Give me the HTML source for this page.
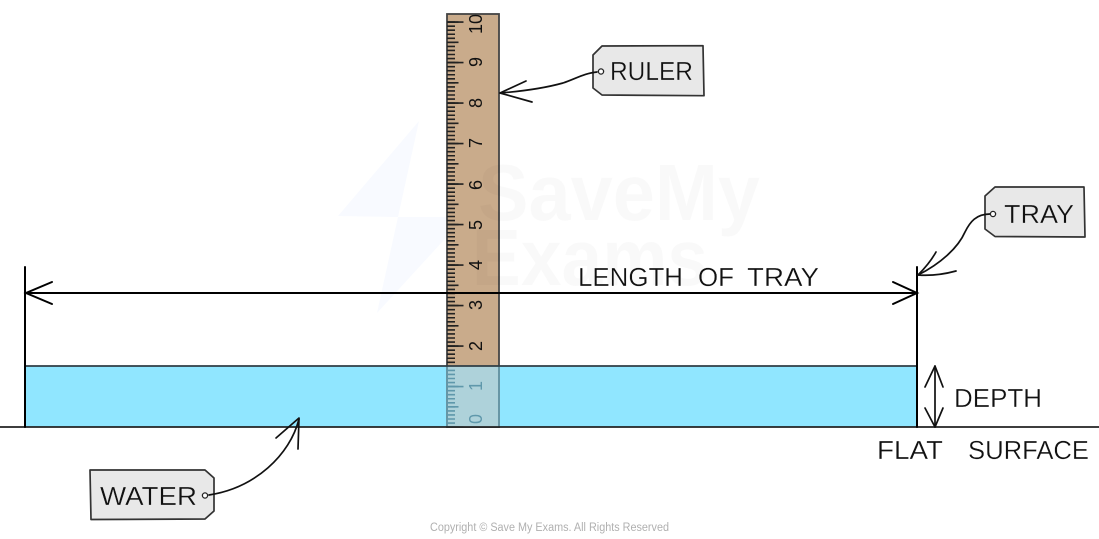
<!DOCTYPE html>
<html lang="en">
<head>
<meta charset="utf-8">
<title>Measuring water depth in a tray</title>
<style>
html,body{margin:0;padding:0;background:#fff}
svg{display:block}
text{font-family:"Liberation Sans",sans-serif}
.l{font-size:26px;fill:#111;stroke:#fff;stroke-width:.3}
.g{stroke:#e8e8e8}
.d{font-size:18px;fill:#111;text-anchor:middle}
.e{font-size:18px;fill:#5f98ab;text-anchor:middle}
.a{fill:none;stroke:#111;stroke-width:1.7;stroke-linecap:round;stroke-linejoin:round}
.m{fill:none;stroke:#000;stroke-width:2;stroke-linecap:round}
.t{fill:#e8e8e8;stroke:#333;stroke-width:1.7;stroke-linejoin:round}
.h{fill:#fff;stroke:#222;stroke-width:1.3}
</style>
</head>
<body>
<svg width="1099" height="539" viewBox="0 0 1099 539" xmlns="http://www.w3.org/2000/svg">
<rect width="1099" height="539" fill="#fff"/>

<!-- watermark bolt -->
<polygon points="419,121 338,216 398,217 377,313 465,217 398,217" fill="#f8faff"/>

<!-- ruler -->
<rect x="447" y="14" width="52" height="413" fill="#c9ab8b" stroke="#444" stroke-width="1.8"/>
<line x1="451" y1="21.3" x2="451" y2="427" stroke="#222" stroke-width="8" stroke-dasharray="1.6 2.45"/>
<line x1="453" y1="21.3" x2="453" y2="427" stroke="#222" stroke-width="11" stroke-dasharray="1.6 18.65"/>
<line x1="455.5" y1="21.3" x2="455.5" y2="427" stroke="#222" stroke-width="16" stroke-dasharray="1.6 38.9"/>
<text class="d" transform="translate(482,24) rotate(-90)">10</text>
<text class="d" transform="translate(482,62) rotate(-90)">9</text>
<text class="d" transform="translate(482,103) rotate(-90)">8</text>
<text class="d" transform="translate(482,143) rotate(-90)">7</text>
<text class="d" transform="translate(482,185) rotate(-90)">6</text>
<text class="d" transform="translate(482,225) rotate(-90)">5</text>
<text class="d" transform="translate(482,265) rotate(-90)">4</text>
<text class="d" transform="translate(482,305) rotate(-90)">3</text>
<text class="d" transform="translate(482,346) rotate(-90)">2</text>

<!-- watermark text -->
<g fill="#000" fill-opacity="0.025" font-weight="700" font-size="80">
<text x="478" y="220" textLength="282" lengthAdjust="spacingAndGlyphs">SaveMy</text>
<text x="472" y="285" textLength="236" lengthAdjust="spacingAndGlyphs">Exams</text>
</g>

<!-- water -->
<rect x="25" y="366" width="422" height="61" fill="#90e6ff"/>
<rect x="499" y="366" width="418" height="61" fill="#90e6ff"/>
<rect x="446" y="366" width="54" height="61" fill="#aed2da"/>
<line x1="447" y1="366" x2="447" y2="427" stroke="#5f8f9f" stroke-width="1.8"/>
<line x1="499" y1="366" x2="499" y2="427" stroke="#5f8f9f" stroke-width="1.8"/>
<line x1="451" y1="369.6" x2="451" y2="427" stroke="#5f98ab" stroke-width="8" stroke-dasharray="1.6 2.45"/>
<line x1="453" y1="385.8" x2="453" y2="427" stroke="#5f98ab" stroke-width="11" stroke-dasharray="1.6 18.65"/>
<line x1="455.5" y1="385.8" x2="455.5" y2="427" stroke="#5f98ab" stroke-width="16" stroke-dasharray="1.6 38.9"/>
<text class="e" transform="translate(482,386) rotate(-90)">1</text>
<text class="e" transform="translate(482,419) rotate(-90)">0</text>
<line x1="25" y1="366" x2="917" y2="366" stroke="#2f3d44" stroke-width="1.7"/>

<!-- ground and tray -->
<line x1="0" y1="427" x2="1099" y2="427" stroke="#222" stroke-width="1.7"/>
<line class="m" x1="25" y1="267" x2="25" y2="427"/>
<line class="m" x1="917" y1="267" x2="917" y2="427"/>

<!-- length arrow -->
<line class="m" x1="26" y1="293" x2="917" y2="293"/>
<path class="m" d="M52,282 L26,293 L52,304"/>
<path class="m" d="M893,282 L917,293 L893,304"/>

<!-- depth arrow -->
<line class="a" x1="935" y1="366" x2="935" y2="427"/>
<path class="a" d="M925,387 L935,366 L943,387"/>
<path class="a" d="M925,408 L935,427 L943,408"/>

<!-- ruler tag -->
<path class="t" d="M602,46 L703,45.7 L704,95.7 L602,95 L593,88 L593,55 Z"/>
<path class="a" d="M597,72 C585,73 575,79 563,83 C545,88 525,91 500,93"/>
<path class="a" d="M526,81 L500,93 L532,102"/>
<circle class="h" cx="601" cy="71.5" r="2.6"/>
<text class="l g" x="610" y="80" textLength="83" lengthAdjust="spacingAndGlyphs">RULER</text>

<!-- tray tag -->
<path class="t" d="M995,187 L1084,187 L1085,237 L995,236.5 L985,229 L985,196 Z"/>
<path class="a" d="M990,214 C976,214 970,222 965,232 C958,248 940,264 918,275"/>
<path class="a" d="M936,252 C931,261 925,268 918,275 C932,276 945,274 956,271"/>
<circle class="h" cx="993" cy="214" r="2.6"/>
<text class="l g" x="1004" y="223" textLength="70" lengthAdjust="spacingAndGlyphs">TRAY</text>

<!-- water tag -->
<path class="t" d="M90,470 L205,470 L214,478 L214,511 L205,519 L91,519.5 Z"/>
<path class="a" d="M209,495 C255,488 290,455 299,419"/>
<path class="a" d="M276,438 L299,418 L298,449"/>
<circle class="h" cx="205" cy="495.5" r="2.6"/>
<text class="l g" x="100" y="505" textLength="97" lengthAdjust="spacingAndGlyphs">WATER</text>

<!-- labels -->
<text class="l" x="578" y="286" textLength="105" lengthAdjust="spacingAndGlyphs">LENGTH</text>
<text class="l" x="698" y="286" textLength="36" lengthAdjust="spacingAndGlyphs">OF</text>
<text class="l" x="747" y="286" textLength="72" lengthAdjust="spacingAndGlyphs">TRAY</text>
<text class="l" x="954" y="407" textLength="88" lengthAdjust="spacingAndGlyphs">DEPTH</text>
<text class="l" x="877" y="459" textLength="66" lengthAdjust="spacingAndGlyphs">FLAT</text>
<text class="l" x="968" y="459" textLength="121" lengthAdjust="spacingAndGlyphs">SURFACE</text>

<!-- copyright -->
<text x="430" y="531" font-size="11.5" fill="#b0b0b0" textLength="239" lengthAdjust="spacingAndGlyphs">Copyright © Save My Exams. All Rights Reserved</text>
</svg>
</body>
</html>
